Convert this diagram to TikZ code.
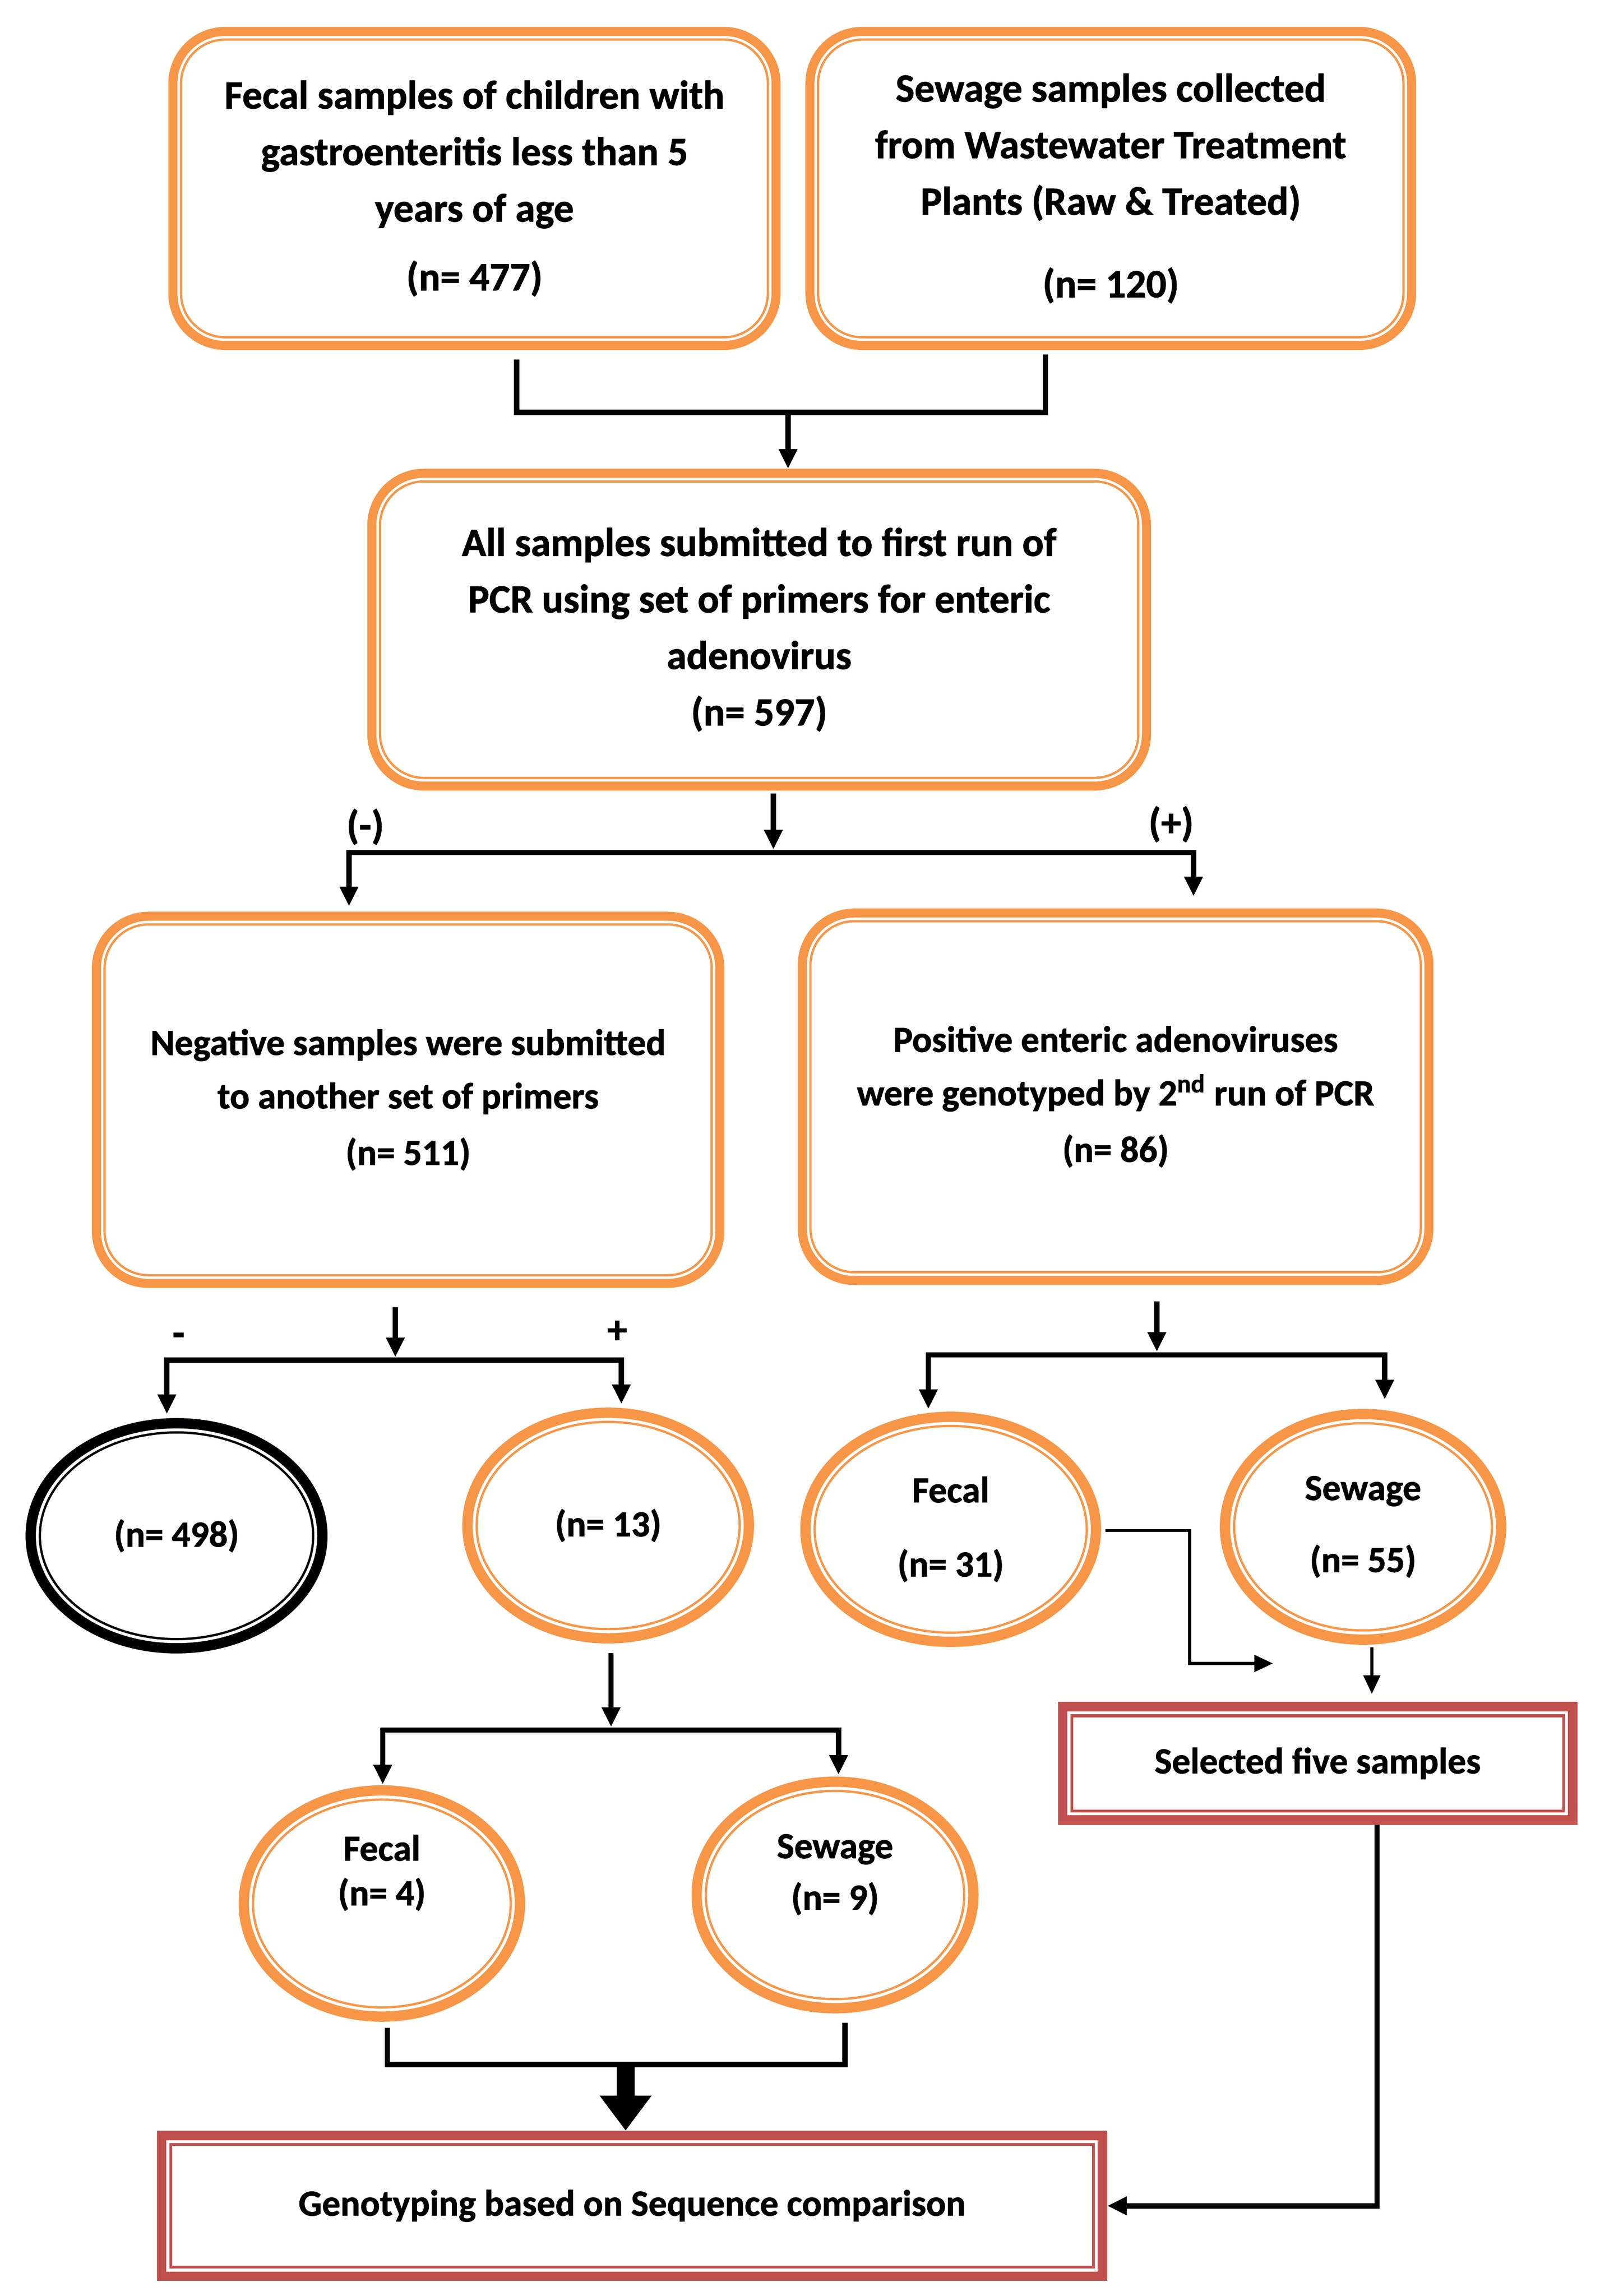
\documentclass[tikz,border=0pt]{standalone}
\usepackage{fontspec}
\setmainfont{Carlito}[BoldFeatures={FakeBold=1.2}]
\usetikzlibrary{arrows.meta,calc,shapes.geometric}
\definecolor{boxorange}{HTML}{F79646}
\definecolor{boxred}{HTML}{C0504D}
\tikzset{
	txt/.style={font=\fontsize{17.8pt}{27.4pt}\selectfont\bfseries, align=center, inner sep=0pt},
	bigtxt/.style={font=\fontsize{19.4pt}{27.4pt}\selectfont\bfseries},
	orangebox/.style={txt, rectangle, rounded corners=0.75cm, fill=white, draw=boxorange, line width=1.1pt,
		preaction={draw=boxorange, line width=12.3pt}, preaction={draw=white, line width=3.5pt}, outer sep=6.15pt},
	orangering/.style={txt, ellipse, fill=white, draw=boxorange, line width=1.1pt,
		preaction={draw=boxorange, line width=13.9pt}, preaction={draw=white, line width=3.9pt}, outer sep=6.95pt},
	blackring/.style={orangering, draw=black, preaction={draw=black, line width=13.9pt}, preaction={draw=white, line width=3.9pt}},
	redbox/.style={txt, rectangle, fill=white, draw=boxred, line width=1.4pt,
		preaction={draw=boxred, line width=13.4pt}, preaction={draw=white, line width=4.2pt}, outer sep=6.7pt},
	sign/.style={font=\fontsize{19.5pt}{22pt}\selectfont\bfseries, inner sep=0pt},
	link/.style={line width=2.6pt},
	arrow/.style={link, -{Triangle[width=8.5pt,length=9.5pt]}},
	thinarrow/.style={line width=1.5pt, -{Triangle[width=8pt,length=9pt]}},
	heavyarrow/.style={line width=8.7pt, -{Triangle[width=24pt,length=17pt]}}
}

\begin{document}
\begin{tikzpicture}[x=0.025cm, y=-0.025cm]
		%%%%% START %%%%%
		\useasboundingbox (0,0) rectangle (1090,1564.7);
		
		\node[orangebox, bigtxt, minimum width=9.995cm, minimum height=5.07cm] (fecalsrc) at (323.3,128.4)
			{Fecal samples of children with\\gastroenteritis less than 5\\years of age\\[5.9pt](n= 477)};
		\node[orangebox, bigtxt, minimum width=9.97cm, minimum height=5.07cm] (sewagesrc) at (756.9,128.4)
			{Sewage samples collected\\from Wastewater Treatment\\Plants (Raw \& Treated)\\[12.6pt](n= 120)};
		
		\node[orangebox, bigtxt, minimum width=12.915cm, minimum height=5.05cm] (allpcr) at (517.3,429.1)
			{All samples submitted to first run of\\PCR using set of primers for enteric\\adenovirus\\(n= 597)};
		
		\node[orangebox, minimum width=10.34cm, minimum height=5.975cm] (negset) at (278.1,749.5)
			{Negative samples were submitted\\[-1.5pt]to another set of primers\\(n= 511)};
		\node[orangebox, minimum width=10.395cm, minimum height=5.98cm] (posgeno) at (760.2,747.4)
			{Positive enteric adenoviruses\\[-1.5pt]were genotyped by 2\textsuperscript{nd} run of PCR\\(n= 86)};
		
		\node[blackring, minimum width=4.655cm, minimum height=3.52cm] (neg498) at (120.3,1046.6) {(n= 498)};
		\node[orangering, minimum width=4.48cm, minimum height=3.53cm] (pos13) at (414.4,1039.6) {(n= 13)};
		\node[orangering, minimum width=4.635cm, minimum height=3.52cm] (fecal31) at (647.8,1042.2) {Fecal\\[8.5pt](n= 31)};
		\node[orangering, minimum width=4.39cm, minimum height=3.53cm] (sewage55) at (928.8,1040.5) {Sewage\\[7.5pt](n= 55)};
		\node[orangering, minimum width=4.39cm, minimum height=3.54cm] (fecal4) at (260.2,1297.2) {Fecal\\[-5.8pt](n= 4)\\[5pt]\mbox{}};
		\node[orangering, minimum width=4.4cm, minimum height=3.545cm] (sewage9) at (569,1291.4) {Sewage\\[-2.5pt](n= 9)\\[-5pt]\mbox{}};
		
		\node[redbox, minimum width=8.375cm, minimum height=1.62cm] (selected) at (897.9,1201.7) {Selected five samples};
		\node[redbox, minimum width=15.715cm, minimum height=2.09cm] (genotyping) at (430.7,1503.25) {Genotyping based on Sequence comparison};
		
		\node[sign] (negsign) at (248.9,563.5) {(-)};
		\node[sign] (possign) at (798,561.7) {(+)};
		\node[sign] (negsign2) at (121.7,913) {-};
		\node[sign] (possign2) at (420.6,907.7) {+};
		
		\coordinate (j1) at (537,281);
		\coordinate (j2) at (527,581);
		\coordinate (j3) at (269.4,927);
		\coordinate (j4) at (788.3,923.3);
		\coordinate (j5) at (416.4,1179);
		\coordinate (j6) at (426.3,1407);
		\coordinate (selin) at (867.4,1133.6);
		
		\draw[link] ($(fecalsrc.south)+(28.7,6.6)$) |- (j1) -| ($(sewagesrc.south)+(-44.5,3.1)$);
		\draw[arrow] (j1) -- (j1 |- allpcr.north);
		
		\draw[arrow, shorten >=1.5pt] ($(allpcr.south)+(9.7,2)$) -- (j2);
		\draw[arrow] (j2) -| ($(negset.north)+(-40.3,-3.7)$);
		\draw[arrow] (j2) -| ($(posgeno.north)+(53.1,-8.3)$);
		
		\draw[arrow, shorten >=1.5pt] ($(negset.south)+(-8.7,13.1)$) -- (j3);
		\draw[arrow] (j3) -| ($(neg498.north)+(-6.6,-2.8)$);
		\draw[arrow] (j3) -| ($(pos13.north)+(9,-2.4)$);
		
		\draw[arrow, shorten >=1.5pt] ($(posgeno.south)+(28.1,11.2)$) -- (j4);
		\draw[arrow] (j4) -| ($(fecal31.north)+(-15.2,-1.8)$);
		\draw[arrow] (j4) -| ($(sewage55.north)+(14.8,-6.5)$);
		
		\draw[arrow, shorten >=1.5pt] ($(pos13.south)+(2,6.5)$) -- (j5);
		\draw[arrow] (j5) -| ($(fecal4.north)+(0.6,-0.6)$);
		\draw[arrow] (j5) -| ($(sewage9.north)+(2.4,-1.3)$);
		
		\draw[link] ($(fecal4.south)+(3.8,4.2)$) |- (j6) -| ($(sewage9.south)+(6.9,6.4)$);
		\draw[heavyarrow] (j6) -- (j6 |- genotyping.north);
		
		\draw[thinarrow] ($(fecal31.east)+(2.9,0.8)$) -- ++(57.4,0) |- (selin);
		\draw[thinarrow] ($(sewage55.south)+(6,1.7)$) -- ($(selected.north)+(36.9,-5.5)$);
		\draw[arrow] ($(selected.south)+(40.4,0)$) |- (genotyping.east);
		
		%%%%% END %%%%%
\end{tikzpicture}
\end{document}
